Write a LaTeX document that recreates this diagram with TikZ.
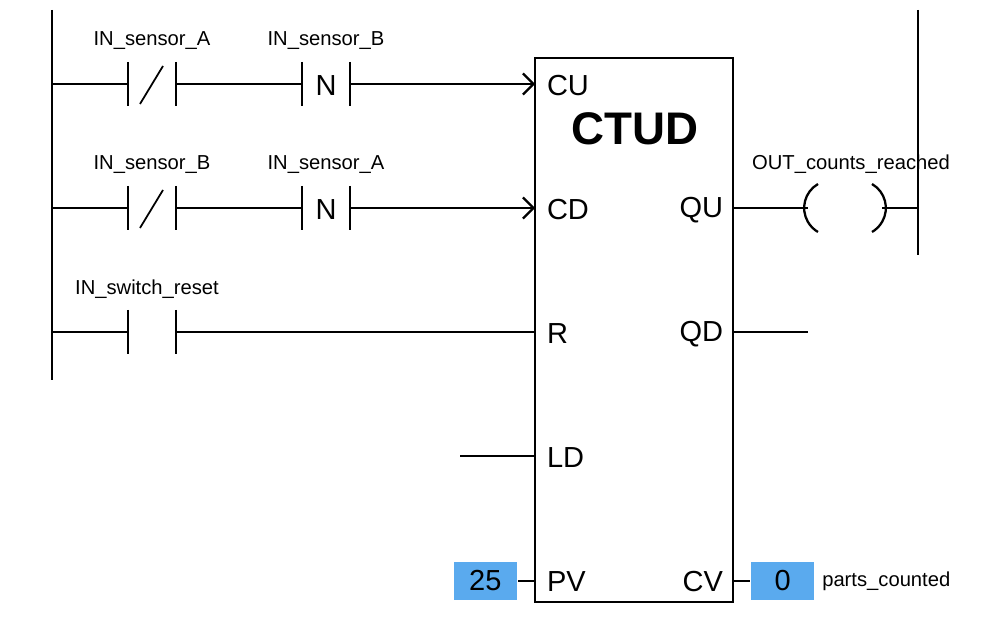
\documentclass[tikz,border=0pt]{standalone}
\usepackage{fontspec}
\setmainfont{Liberation Sans}
\usetikzlibrary{arrows.meta}
\definecolor{valblue}{RGB}{90,170,238}

\begin{document}
\begin{tikzpicture}[x=0.02cm,y=-0.02cm,line width=1.3pt,
  lbl/.style={font=\fontsize{11.5}{13}\selectfont},
  port/.style={font=\fontsize{16.5}{18}\selectfont},
  val/.style={fill=valblue,minimum width=1.26cm,minimum height=0.76cm,inner sep=0pt,font=\fontsize{16.5}{18}\selectfont},
  >={Straight Barb[length=6pt,width=12pt]}]
         \useasboundingbox (0,0) rectangle (994,624);
         % rails
         \draw (52,10) -- (52,380);
         \draw (918,10) -- (918,255);
         % function block
         \draw (535,58) rectangle (733,602);
         \node[font=\fontsize{26}{28}\selectfont\bfseries] (name) at (635,129) {CTUD};
         \node[port,anchor=west] (cu) at (540,86) {CU};
         \node[port,anchor=west] (cd) at (540,210) {CD};
         \node[port,anchor=west] (r) at (540,334) {R};
         \node[port,anchor=west] (ld) at (540,458) {LD};
         \node[port,anchor=west] (pv) at (540,582) {PV};
         \node[port,anchor=east] (qu) at (730,210) {QU};
         \node[port,anchor=east] (qd) at (730,334) {QD};
         \node[port,anchor=east] (cv) at (730,582) {CV};
         % rungs 1 and 2
         \foreach \y/\a/\b in {84/IN\_sensor\_A/IN\_sensor\_B, 208/IN\_sensor\_B/IN\_sensor\_A}{
           \draw (52,\y) -- (128,\y);
           \draw (128,\y-22) -- (128,\y+22);
           \draw (176,\y-22) -- (176,\y+22);
           \draw[line width=1pt] (140,\y+20) -- (163,\y-18);
           \draw (176,\y) -- (302,\y);
           \draw (302,\y-22) -- (302,\y+22);
           \draw (350,\y-22) -- (350,\y+22);
           \node[port] at (326,\y+2) {N};
           \draw[->] (350,\y) -- (535,\y);
           \node[lbl] at (152,\y-43) {\a};
           \node[lbl] at (326,\y-43) {\b};
         }
         % rung 3
         \draw (52,332) -- (128,332);
         \draw (128,310) -- (128,354);
         \draw (176,310) -- (176,354);
         \draw (176,332) -- (535,332);
         \node[lbl] at (147,289) {IN\_switch\_reset};
         % coil
         \draw (733,208) -- (808,208);
         \draw (818,184) arc[start angle=240,end angle=120,radius=27.7];
         \draw (872,184) arc[start angle=-60,end angle=60,radius=27.7];
         \draw (882,208) -- (918,208);
         \node[lbl] at (851,164) {OUT\_counts\_reached};
         % other pins
         \draw (733,332) -- (808,332);
         \draw (460,456) -- (535,456);
         \node[val,anchor=east] (pvval) at (518,581) {25};
         \draw (pvval.east) -- (535,581);
         \node[val,anchor=west] (cvval) at (750,581) {0};
         \draw (733,581) -- (cvval.west);
         \node[lbl,anchor=west] at (cvval.east) {parts\_counted};
        \end{tikzpicture}
\end{document}
